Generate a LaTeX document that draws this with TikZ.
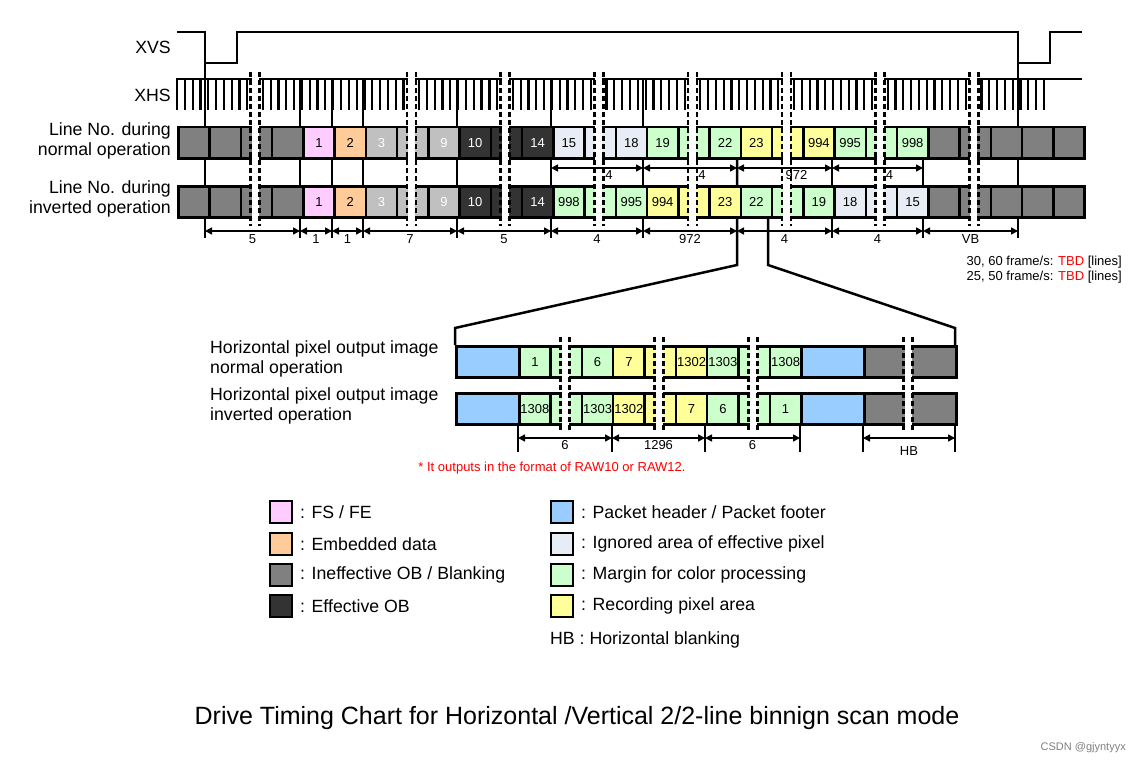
\documentclass[tikz,border=0pt]{standalone}
\usepackage{fontspec}
\setmainfont{Liberation Sans}
\usetikzlibrary{arrows.meta}
\definecolor{cpink}{HTML}{FFCCFF}\definecolor{corange}{HTML}{FFCC99}
\definecolor{cgray}{HTML}{808080}\definecolor{clgray}{HTML}{C0C0C0}
\definecolor{cdark}{HTML}{333333}\definecolor{cblue}{HTML}{99CCFF}
\definecolor{cign}{HTML}{E8ECF4}\definecolor{cgreen}{HTML}{CCFFCC}
\definecolor{cyel}{HTML}{FFFF99}\definecolor{cred}{HTML}{FF0000}
\begin{document}
\begin{tikzpicture}[x=1pt,y=-1pt,
  cell/.style={draw=black,line width=2.5pt,inner sep=0pt,font=\fontsize{13}{13}\selectfont,anchor=north west,minimum height=31pt},
  lbl/.style={font=\fontsize{17.7}{20}\selectfont,inner sep=0pt},
  dim/.style={line width=1.6pt,{Triangle[length=7pt,width=7pt]}-{Triangle[length=7pt,width=7pt]}},
  dl/.style={font=\fontsize{13}{13}\selectfont,inner sep=0pt,anchor=north},
  vl/.style={line width=2.5pt},
  brk/.style={line width=2.5pt,dash pattern=on 5pt off 3pt}]
\useasboundingbox (0,0) rectangle (1140,765);
% labels
\node[lbl,anchor=east] (lxvs) at (171,47) {XVS};
\node[lbl,anchor=east] (lxhs) at (171,95) {XHS};
\node[lbl,anchor=east,align=right] (ln) at (171,141) {Line No. during\\normal operation};
\node[lbl,anchor=east,align=right] (li) at (171,199) {Line No. during\\inverted operation};
% XVS
\draw[line width=2.2pt] (177,32)--(205,32)--(205,63)--(237,63)--(237,32)--(1018,32)--(1018,63)--(1050,63)--(1050,32)--(1082,32);
% XHS
\draw[line width=2.2pt] (177,110)--(177,79)--(1082,79);
\foreach \j in {1,...,111}{\draw[line width=2.2pt] ({177+7.81*\j},79)--({177+7.81*\j},110);}
% long verticals
\draw[vl] (205,63)--(205,238);
\foreach \x in {300,332,363,457,551,643}{\draw[vl] (\x,79)--(\x,238);}
\draw[vl] (1018,63)--(1018,238);
\foreach \x in {832,923}{\draw[vl] (\x,157)--(\x,238);}
\draw[vl] (737,157)--(737,265)--(455,328)--(455,345);
\draw[vl] (768,217)--(768,265)--(955,328)--(955,345);
% top rows
\newcommand\rowcells[2]{%
 \foreach \i/\f/\t/\c in {#2}{%
   \node[cell,fill=\f,text=\c,minimum width=31.25pt] (c#1-\i) at ({177+31.25*\i},#1) {\t};}}
\rowcells{126}{0/cgray//black,1/cgray//black,2/cgray//black,3/cgray//black,4/cpink/1/black,5/corange/2/black,6/clgray/3/white,7/clgray//white,8/clgray/9/white,9/cdark/10/white,10/cdark//white,11/cdark/14/white,12/cign/15/black,13/cign//black,14/cign/18/black,15/cgreen/19/black,16/cgreen//black,17/cgreen/22/black,18/cyel/23/black,19/cyel//black,20/cyel/994/black,21/cgreen/995/black,22/cgreen//black,23/cgreen/998/black,24/cgray//black,25/cgray//black,26/cgray//black,27/cgray//black,28/cgray//black}
\rowcells{185}{0/cgray//black,1/cgray//black,2/cgray//black,3/cgray//black,4/cpink/1/black,5/corange/2/black,6/clgray/3/white,7/clgray//white,8/clgray/9/white,9/cdark/10/white,10/cdark//white,11/cdark/14/white,12/cgreen/998/black,13/cgreen//black,14/cgreen/995/black,15/cyel/994/black,16/cyel//black,17/cyel/23/black,18/cgreen/22/black,19/cgreen//black,20/cgreen/19/black,21/cign/18/black,22/cign//black,23/cign/15/black,24/cgray//black,25/cgray//black,26/cgray//black,27/cgray//black,28/cgray//black}
% breaks
\newcommand\brkmark[3]{\fill[white] (#1-3.5,#2) rectangle (#1+3.5,#3);
  \draw[brk] (#1-4.5,#2)--(#1-4.5,#3); \draw[brk] (#1+4.5,#2)--(#1+4.5,#3);}
\foreach \i in {2,7,10,13,16,19,22,25}{\brkmark{177+31.25*\i+15.6}{72}{226}}
% dims between rows
\foreach \a/\b/\t in {551/643/4,643/737/4,737/832/972,832/923/4}{
  \draw[dim] (\a,168)--(\b,168); \node[dl] at ({(\a+\b)/2+12},170) {\t};}
\foreach \a/\b/\t in {205/300/5,300/332/1,332/363/1,363/457/7,457/551/5,551/643/4,643/737/972,737/832/4,832/923/4,923/1018/VB}{
  \draw[dim] (\a,231)--(\b,231); \node[dl] at ({(\a+\b)/2},234) {\t};}
\node[font=\fontsize{13}{13}\selectfont,anchor=east,inner sep=0pt] (f1) at (1122,262) {30, 60 frame/s: \textcolor{cred}{TBD} [lines]};
\node[font=\fontsize{13}{13}\selectfont,anchor=east,inner sep=0pt] (f2) at (1122,277) {25, 50 frame/s: \textcolor{cred}{TBD} [lines]};
% lower section
\node[lbl,anchor=west,align=left] (h1) at (210,359) {Horizontal pixel output image\\normal operation};
\node[lbl,anchor=west,align=left] (h2) at (210,406) {Horizontal pixel output image\\inverted operation};
\foreach \x in {518,612,705,800,863,955}{\draw[vl] (\x,424)--(\x,452);}
\newcommand\lrow[2]{%
 \node[cell,fill=cblue,minimum width=63pt] (b#1a) at (455,#1) {};
 \foreach \i/\f/\t in {#2}{\node[cell,fill=\f,minimum width=31.33pt] (l#1-\i) at ({518+31.33*\i},#1) {\t};}
 \node[cell,fill=cblue,minimum width=63pt] (b#1b) at (800,#1) {};
 \node[cell,fill=cgray,minimum width=92pt] (g#1) at (863,#1) {};}
\lrow{345}{0/cgreen/1,1/cgreen/,2/cgreen/6,3/cyel/7,4/cyel/,5/cyel/1302,6/cgreen/1303,7/cgreen/,8/cgreen/1308}
\lrow{392}{0/cgreen/1308,1/cgreen/,2/cgreen/1303,3/cyel/1302,4/cyel/,5/cyel/7,6/cgreen/6,7/cgreen/,8/cgreen/1}
\foreach \x in {565,659,753,908}{\brkmark{\x}{337}{432}}
\foreach \a/\b/\t in {518/612/6,612/705/1296,705/800/6}{
  \draw[dim] (\a,438)--(\b,438); \node[dl] at ({(\a+\b)/2},440) {\t};}
\draw[dim] (863,438)--(955,438); \node[dl] at (909,446) {HB};
\node[font=\fontsize{13}{13}\selectfont,text=cred,inner sep=0pt] (raw) at (552,468) {* It outputs in the format of RAW10 or RAW12.};
% legend
\tikzset{lg/.style={draw=black,line width=2.5pt,minimum width=22pt,minimum height=22pt,inner sep=0pt}}
\foreach \y/\f/\t [count=\k] in {512/cpink/{FS / FE},544/corange/{Embedded data},575/cgray/{Ineffective OB / Blanking},606/cdark/{Effective OB}}{
  \node[lg,fill=\f] (lgl\k) at (281,\y) {};
  \node[lbl,anchor=west] (lgtl\k) at (300,\y) {: \t};}
\foreach \y/\f/\t [count=\k] in {512/cblue/{Packet header / Packet footer},544/cign/{Ignored area of effective pixel},575/cgreen/{Margin for color processing},606/cyel/{Recording pixel area}}{
  \node[lg,fill=\f] (lgr\k) at (562,\y) {};
  \node[lbl,anchor=west] (lgtr\k) at (581,\y) {: \t};}
\node[lbl,anchor=west] (hb) at (550,640) {HB : Horizontal blanking};
\node[font=\fontsize{25}{25}\selectfont,inner sep=0pt] (title) at (577,718) {Drive Timing Chart for Horizontal /Vertical 2/2-line binnign scan mode};
\node[font=\fontsize{11}{11}\selectfont,text=gray,anchor=east,inner sep=0pt] (csdn) at (1126,748) {CSDN @gjyntyyx};
\end{tikzpicture}
\end{document}
